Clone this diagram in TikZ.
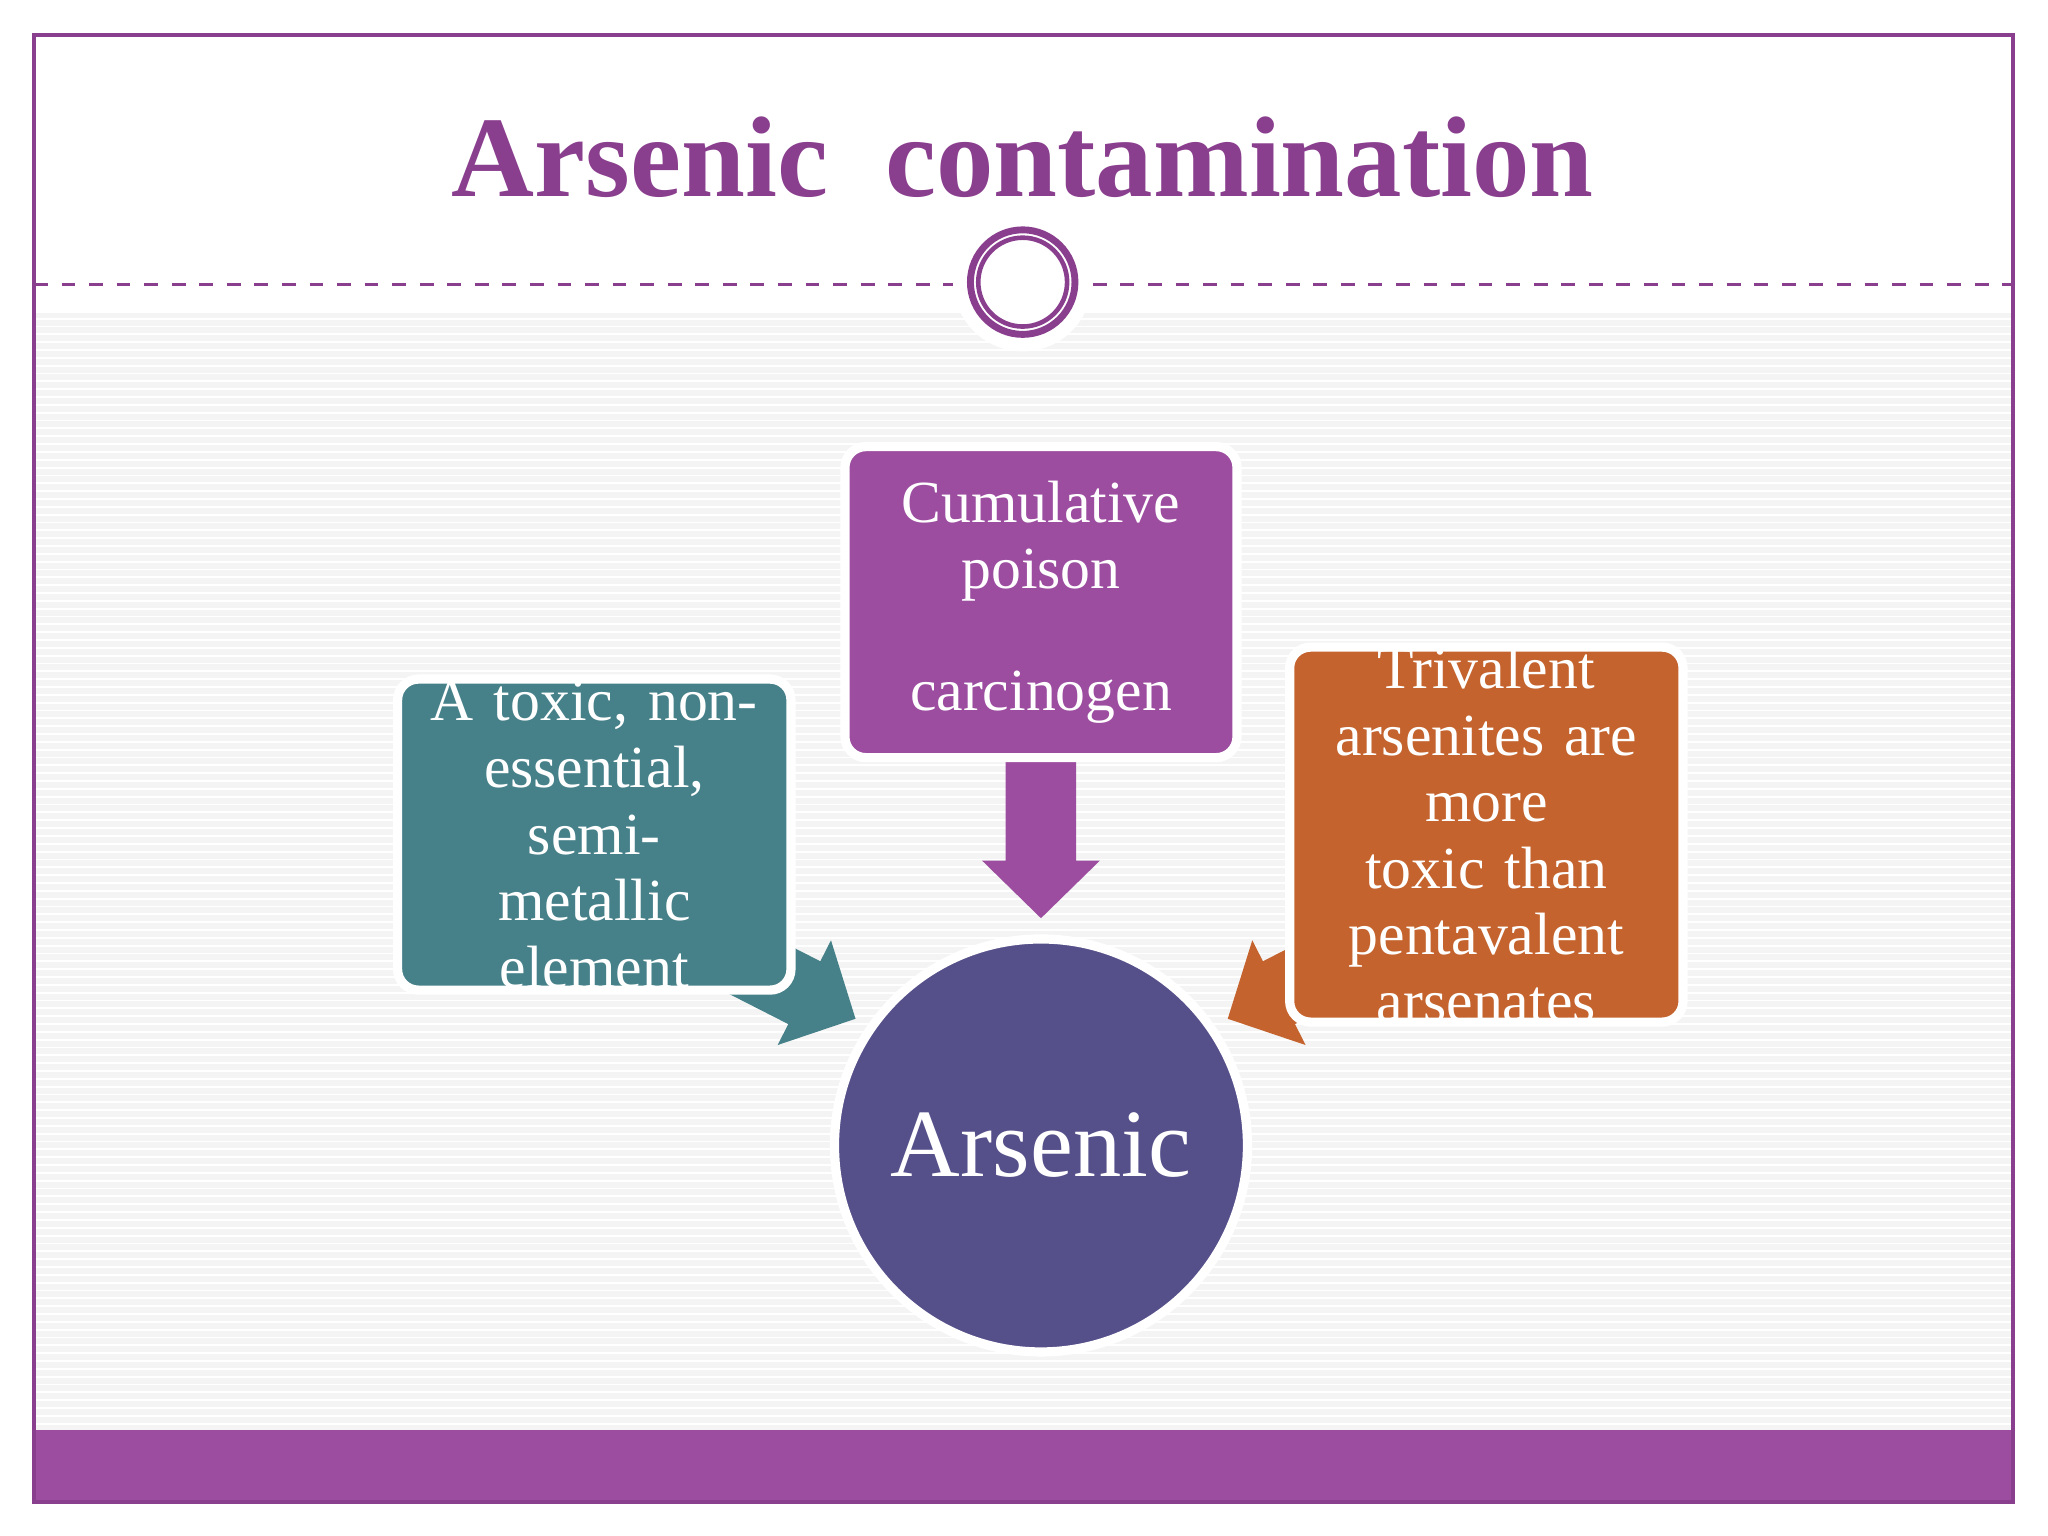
\documentclass[tikz,border=0pt]{standalone}
\usepackage{fontspec}
\setmainfont{Liberation Serif}
\begin{document}
\begin{tikzpicture}[x=0.01cm,y=-0.01cm,
  box/.style={draw=white,line width=2pt,rounded corners=0.16cm,text=white,align=center,font=\fontsize{13}{14.5}\selectfont,inner sep=0pt,text width=2.8cm},
  barrow/.style={line width=0pt}]
\definecolor{pur}{HTML}{9C4DA0}
\definecolor{tpur}{HTML}{8A3E8E}
\definecolor{teal}{HTML}{46818A}
\definecolor{org}{HTML}{C4632D}
\definecolor{ars}{HTML}{55508A}
\useasboundingbox (0,0) rectangle (1568,1176);
\fill[white] (0,0) rectangle (1568,1176);
\fill[gray!9] (26,240) rectangle (1541,1095);
\foreach \y in {244,250,...,1092} \draw[white,line width=0.4pt] (26,\y) -- (1541,\y);
\fill[pur] (26,1095) rectangle (1541,1150);
\draw[tpur,line width=0.8pt] (26,27) rectangle (1541,1150);
\node[font=\bfseries\fontsize{25}{28}\selectfont,text=tpur] (title) at (783,120) {Arsenic\ \ contamination};
\node[circle,fill=white,minimum size=1.06cm,inner sep=0pt] (ring) at (783,216) {};
\draw[tpur,dashed,line width=0.6pt] (26,218) -- (ring.west |- 0,218);
\draw[tpur,dashed,line width=0.6pt] (ring.east |- 0,218) -- (1541,218);
\draw[tpur,line width=1.5pt] (783,216) circle (0.40cm);
\draw[tpur,line width=1pt] (783,216) circle (0.34cm);
% arrows
\foreach \tx/\ty/\r/\c/\L in {797/703/-90/pur/125, 655/780/-27/teal/110, 940/780/-153/org/110}{
  \begin{scope}[shift={(\tx,\ty)},rotate=\r]
    \fill[\c] (0,0) -- (-44,-45) -- (-44,-27) -- (-\L,-27) -- (-\L,27) -- (-44,27) -- (-44,45) -- cycle;
  \end{scope}}
\node[box,fill=pur,minimum width=3cm,minimum height=2.38cm] (top) at (797,461) {Cumulative\\poison\\[12pt]carcinogen};
\node[box,fill=teal,minimum width=3.01cm,minimum height=2.38cm] (left) at (455,639) {A toxic, non-\\essential, semi-\\metallic\\element};
\node[box,fill=org,minimum width=3.01cm,minimum height=2.38cm] (right) at (1138,639) {Trivalent\\arsenites are\\more toxic than\\pentavalent\\arsenates};
\node[circle,draw=white,line width=2pt,fill=ars,minimum size=3.16cm,text=white,font=\fontsize{21}{24}\selectfont] (as) at (797,877) {Arsenic};
\end{tikzpicture}
\end{document}
